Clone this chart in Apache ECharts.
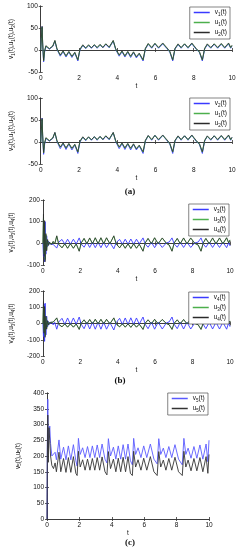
<!DOCTYPE html>
<html><head><meta charset="utf-8">
<script src="https://cdn.jsdelivr.net/npm/echarts@6/dist/echarts.min.js"></script>
<style>html,body{margin:0;padding:0;background:#fff}#c{width:241px;height:550px}</style>
</head><body><div id="c"></div>
<script>
// ---------- data: [t, value] pairs ----------
const v1 = [[0,0],[0.03,24],[0.07,53],[0.1,13],[0.15,-27],[0.2,-5],[0.27,8],[0.35,5],[0.45,2],[0.55,5],[0.63,8],[0.74,20],[0.85,1],[1.02,-14],[1.17,-4],[1.32,-16],[1.47,-5],[1.63,-17],[1.78,-7],[1.94,-25],[2.05,0],[2.2,10],[2.35,3],[2.5,10],[2.65,4],[2.8,11],[2.95,4],[3.1,11],[3.25,5],[3.4,13],[3.58,5],[3.79,20],[3.92,1],[4.1,-14],[4.25,-4],[4.4,-16],[4.55,-5],[4.7,-17],[4.85,-6],[5.0,-18],[5.15,-9],[5.35,-25],[5.47,2],[5.62,13],[5.8,4],[5.97,14],[6.16,4],[6.38,14],[6.6,3],[6.75,-5],[6.9,-25],[7.02,2],[7.18,12],[7.34,4],[7.52,13],[7.7,4],[7.9,14],[8.12,2],[8.3,-6],[8.45,-25],[8.57,2],[8.71,12],[8.89,4],[9.07,13],[9.25,4],[9.44,13],[9.62,4],[9.82,14],[9.93,4],[10,9]];
const u1 = [[0,0],[0.03,25],[0.07,52],[0.1,15],[0.15,-25],[0.2,-3],[0.27,9],[0.35,6],[0.45,3],[0.55,6],[0.63,9],[0.74,21],[0.85,2],[1.02,-12],[1.17,-3],[1.32,-14],[1.47,-4],[1.63,-15],[1.78,-6],[1.94,-23],[2.05,1],[2.2,11],[2.35,4],[2.5,11],[2.65,5],[2.8,12],[2.95,5],[3.1,12],[3.25,6],[3.4,14],[3.58,6],[3.79,21],[3.92,2],[4.1,-12],[4.25,-3],[4.4,-14],[4.55,-4],[4.7,-15],[4.85,-5],[5.0,-16],[5.15,-8],[5.35,-23],[5.47,3],[5.62,14],[5.8,5],[5.97,15],[6.16,5],[6.38,15],[6.6,4],[6.75,-4],[6.9,-23],[7.02,3],[7.18,13],[7.34,5],[7.52,14],[7.7,5],[7.9,15],[8.12,3],[8.3,-5],[8.45,-23],[8.57,3],[8.71,13],[8.89,5],[9.07,14],[9.25,5],[9.44,14],[9.62,5],[9.82,15],[9.93,5],[10,10]];
const u2 = [[0,0],[0.03,26],[0.07,54],[0.1,16],[0.15,-24],[0.2,-2],[0.27,10],[0.35,6],[0.45,3],[0.55,6],[0.63,9],[0.74,22],[0.85,3],[1.02,-11],[1.17,-2],[1.32,-13],[1.47,-3],[1.63,-14],[1.78,-5],[1.94,-22],[2.05,2],[2.2,12],[2.35,5],[2.5,12],[2.65,5],[2.8,12],[2.95,6],[3.1,13],[3.25,6],[3.4,14],[3.58,7],[3.79,22],[3.92,3],[4.1,-11],[4.25,-2],[4.4,-13],[4.55,-3],[4.7,-14],[4.85,-4],[5.0,-15],[5.15,-7],[5.35,-22],[5.47,4],[5.62,15],[5.8,6],[5.97,15],[6.16,6],[6.38,16],[6.6,5],[6.75,-3],[6.9,-22],[7.02,4],[7.18,14],[7.34,6],[7.52,14],[7.7,6],[7.9,16],[8.12,4],[8.3,-4],[8.45,-22],[8.57,4],[8.71,14],[8.89,6],[9.07,14],[9.25,6],[9.44,15],[9.62,6],[9.82,16],[9.93,6],[10,11]];
const v2 = [[0,0],[0.03,23],[0.07,54],[0.1,12],[0.15,-28],[0.2,-6],[0.27,8],[0.35,5],[0.45,2],[0.55,5],[0.63,8],[0.74,21],[0.85,1],[1.02,-15],[1.17,-4],[1.32,-17],[1.47,-5],[1.63,-18],[1.78,-7],[1.94,-26],[2.05,0],[2.2,11],[2.35,3],[2.5,11],[2.65,4],[2.8,12],[2.95,4],[3.1,12],[3.25,5],[3.4,13],[3.58,5],[3.79,21],[3.92,1],[4.1,-15],[4.25,-4],[4.4,-17],[4.55,-5],[4.7,-18],[4.85,-6],[5.0,-18],[5.15,-9],[5.35,-26],[5.47,2],[5.62,14],[5.8,4],[5.97,15],[6.16,4],[6.38,15],[6.6,3],[6.75,-5],[6.9,-26],[7.02,2],[7.18,13],[7.34,4],[7.52,14],[7.7,4],[7.9,15],[8.12,2],[8.3,-6],[8.45,-26],[8.57,2],[8.71,13],[8.89,4],[9.07,14],[9.25,4],[9.44,14],[9.62,4],[9.82,15],[9.93,4],[10,10]];

const v3 = [[0,0],[0.03,-60],[0.06,80],[0.09,-85],[0.12,100],[0.16,-50],[0.2,35],[0.25,-15],[0.3,10],[0.35,-3],[0.45,6],[0.55,-5],[0.63,4],[0.74,-22],[0.85,6],[1.02,18],[1.17,-4],[1.32,19],[1.47,-4],[1.63,19],[1.78,-3],[1.94,25],[2.05,-3],[2.2,-18],[2.35,5],[2.5,-19],[2.65,5],[2.8,-20],[2.95,5],[3.1,-20],[3.25,5],[3.4,-20],[3.58,4],[3.79,-25],[3.92,4],[4.1,18],[4.25,-4],[4.4,19],[4.55,-4],[4.7,20],[4.85,-4],[5.0,19],[5.15,-2],[5.35,25],[5.47,-3],[5.62,-18],[5.8,5],[5.97,-20],[6.16,5],[6.38,-19],[6.6,2],[6.75,6],[6.9,25],[7.02,-3],[7.18,-18],[7.34,5],[7.52,-19],[7.7,5],[7.9,-19],[8.12,2],[8.3,6],[8.45,25],[8.57,-3],[8.71,-18],[8.89,5],[9.07,-19],[9.25,5],[9.44,-19],[9.62,5],[9.82,-20],[9.93,4],[10,-12]];
const u3 = [[0,0],[0.03,115],[0.06,-50],[0.09,95],[0.12,-75],[0.16,40],[0.2,-30],[0.25,15],[0.3,-8],[0.35,5],[0.45,-5],[0.55,8],[0.63,-3],[0.74,33],[0.85,-5],[1.02,-20],[1.17,-2],[1.32,-22],[1.47,-2],[1.63,-22],[1.78,-3],[1.94,-35],[2.05,2],[2.2,22],[2.35,-2],[2.5,24],[2.65,-2],[2.8,25],[2.95,-2],[3.1,25],[3.25,-2],[3.4,25],[3.58,-2],[3.79,33],[3.92,-3],[4.1,-20],[4.25,-2],[4.4,-22],[4.55,-2],[4.7,-23],[4.85,-2],[5.0,-22],[5.15,-4],[5.35,-35],[5.47,2],[5.62,22],[5.8,-2],[5.97,25],[6.16,-2],[6.38,24],[6.6,0],[6.75,-8],[6.9,-35],[7.02,2],[7.18,22],[7.34,-2],[7.52,24],[7.7,-2],[7.9,24],[8.12,0],[8.3,-8],[8.45,-35],[8.57,2],[8.71,22],[8.89,-2],[9.07,24],[9.25,-2],[9.44,24],[9.62,-2],[9.82,25],[9.93,2],[10,15]];
const u4 = [[0,0],[0.03,135],[0.06,-60],[0.09,105],[0.12,-85],[0.16,45],[0.2,-35],[0.25,18],[0.3,-10],[0.35,6],[0.45,-5],[0.55,9],[0.63,-3],[0.74,35],[0.85,-5],[1.02,-21],[1.17,-2],[1.32,-23],[1.47,-2],[1.63,-23],[1.78,-3],[1.94,-37],[2.05,2],[2.2,23],[2.35,-2],[2.5,25],[2.65,-2],[2.8,26],[2.95,-2],[3.1,26],[3.25,-2],[3.4,26],[3.58,-2],[3.79,35],[3.92,-3],[4.1,-21],[4.25,-2],[4.4,-23],[4.55,-2],[4.7,-24],[4.85,-2],[5.0,-23],[5.15,-4],[5.35,-37],[5.47,2],[5.62,23],[5.8,-2],[5.97,26],[6.16,-2],[6.38,25],[6.6,0],[6.75,-8],[6.9,-37],[7.02,2],[7.18,23],[7.34,-2],[7.52,25],[7.7,-2],[7.9,25],[8.12,0],[8.3,-8],[8.45,-37],[8.57,2],[8.71,23],[8.89,-2],[9.07,25],[9.25,-2],[9.44,25],[9.62,-2],[9.82,26],[9.93,2],[10,16]];
const v4 = [[0,0],[0.03,-80],[0.06,120],[0.09,-110],[0.12,125],[0.16,-70],[0.2,45],[0.25,-20],[0.3,12],[0.35,-5],[0.45,10],[0.55,-8],[0.63,7],[0.74,-35],[0.85,10],[1.02,32],[1.17,-6],[1.32,34],[1.47,-6],[1.63,34],[1.78,-5],[1.94,40],[2.05,-5],[2.2,-32],[2.35,8],[2.5,-34],[2.65,8],[2.8,-35],[2.95,8],[3.1,-35],[3.25,8],[3.4,-35],[3.58,6],[3.79,-40],[3.92,6],[4.1,32],[4.25,-6],[4.4,34],[4.55,-6],[4.7,35],[4.85,-6],[5.0,34],[5.15,-4],[5.35,40],[5.47,-5],[5.62,-32],[5.8,8],[5.97,-35],[6.16,8],[6.38,-34],[6.6,4],[6.75,10],[6.9,40],[7.02,-5],[7.18,-32],[7.34,8],[7.52,-34],[7.7,8],[7.9,-34],[8.12,4],[8.3,10],[8.45,40],[8.57,-5],[8.71,-32],[8.89,8],[9.07,-34],[9.25,8],[9.44,-34],[9.62,8],[9.82,-35],[9.93,6],[10,-20]];

const v5 = [[0,0],[0.02,240],[0.05,380],[0.08,225],[0.12,265],[0.17,295],[0.22,240],[0.3,200],[0.4,195],[0.5,212],[0.58,188],[0.66,182],[0.74,251],[0.85,190],[1.02,228],[1.17,188],[1.32,232],[1.47,188],[1.63,236],[1.78,185],[1.86,168],[1.94,256],[2.05,205],[2.2,226],[2.35,195],[2.5,230],[2.65,195],[2.8,232],[2.95,195],[3.1,235],[3.25,195],[3.4,238],[3.58,190],[3.7,178],[3.79,255],[3.92,200],[4.1,228],[4.25,190],[4.4,232],[4.55,190],[4.7,236],[4.85,190],[5.0,238],[5.15,185],[5.27,172],[5.35,256],[5.47,205],[5.62,226],[5.8,195],[5.97,232],[6.16,195],[6.38,238],[6.6,190],[6.8,175],[6.9,255],[7.02,205],[7.18,225],[7.34,195],[7.52,230],[7.7,195],[7.9,236],[8.12,190],[8.35,172],[8.45,256],[8.57,205],[8.71,225],[8.89,193],[9.07,230],[9.25,193],[9.44,235],[9.62,190],[9.82,238],[9.93,182],[10,250]];
const u5 = [[0,0],[0.02,200],[0.05,330],[0.08,180],[0.12,290],[0.17,250],[0.22,200],[0.3,170],[0.4,160],[0.5,178],[0.58,150],[0.66,145],[0.74,212],[0.85,150],[1.02,192],[1.17,148],[1.32,195],[1.47,148],[1.63,198],[1.78,145],[1.86,138],[1.94,215],[2.05,165],[2.2,188],[2.35,155],[2.5,190],[2.65,155],[2.8,192],[2.95,155],[3.1,195],[3.25,155],[3.4,197],[3.58,150],[3.7,140],[3.79,214],[3.92,160],[4.1,190],[4.25,150],[4.4,193],[4.55,150],[4.7,196],[4.85,150],[5.0,198],[5.15,145],[5.27,138],[5.35,215],[5.47,165],[5.62,188],[5.8,155],[5.97,193],[6.16,155],[6.38,198],[6.6,150],[6.8,138],[6.9,214],[7.02,165],[7.18,187],[7.34,155],[7.52,192],[7.7,155],[7.9,196],[8.12,150],[8.35,138],[8.45,215],[8.57,165],[8.71,187],[8.89,153],[9.07,192],[9.25,153],[9.44,195],[9.62,150],[9.82,198],[9.93,145],[10,205]];

const xRange = {min: 0, max: 10, interval: 2};
const yRangeA = {min: -50, max: 100, interval: 50};
const yRangeB1 = {min: -100, max: 200, interval: 100};
const yRangeB2 = {min: -200, max: 200, interval: 100};
const yRangeC = {min: 0, max: 400, interval: 50};
const captions = ['(a)', '(b)', '(c)'];

// ---------- presentation ----------
const FONT = 'Liberation Sans';
const AX = '#333';
const BLUE = '#3a3aff', GREEN = '#4caf4c', BLACK = '#2a2a2a';
function sub(b, s) { return `{n|${b}}{s|${s}}{n|(t)}`; }
const rich = {
  n: {fontSize: 6.5, lineHeight: 9, fontFamily: FONT, color: '#111'},
  s: {fontSize: 4.5, verticalAlign: 'bottom', fontFamily: FONT, color: '#111'}
};

const panels = [
  {grid: {left: 30, right: 9, top: 6, height: 66}, y: yRangeA, yname: `{n|v}{s|1}{n|(t),u}{s|1}{n|(t),u}{s|2}{n|(t)}`, ygap: 16,
   legend: {right: 11, top: 7},
   series: [['A_v1', v1, BLUE, sub('v','1')], ['A_u1', u1, GREEN, sub('u','1')], ['A_u2', u2, BLACK, sub('u','2')]]},
  {grid: {left: 30, right: 9, top: 98, height: 66}, y: yRangeA, yname: `{n|v}{s|2}{n|(t),u}{s|1}{n|(t),u}{s|2}{n|(t)}`, ygap: 16,
   legend: {right: 11, top: 98},
   series: [['B_v2', v2, BLUE, sub('v','2')], ['B_u1', u1, GREEN, sub('u','1')], ['B_u2', u2, BLACK, sub('u','2')]]},
  {grid: {left: 31, right: 11, top: 200, height: 65}, y: yRangeB1, yname: `{n|v}{s|3}{n|(t),u}{s|3}{n|(t),u}{s|4}{n|(t)}`, ygap: 18,
   legend: {right: 12, top: 204},
   series: [['C_v3', v3, BLUE, sub('v','3')], ['C_u3', u3, GREEN, sub('u','3')], ['C_u4', u4, BLACK, sub('u','4')]]},
  {grid: {left: 33, right: 11, top: 291, height: 65}, y: yRangeB2, yname: `{n|v}{s|4}{n|(t),u}{s|3}{n|(t),u}{s|4}{n|(t)}`, ygap: 19,
   legend: {right: 12, top: 292},
   series: [['D_v4', v4, BLUE, sub('v','4')], ['D_u3', u3, GREEN, sub('u','3')], ['D_u4', u4, BLACK, sub('u','4')]]},
  {grid: {left: 47, right: 32, top: 393, height: 126}, y: yRangeC, yname: `{n|v}{s|5}{n|(t),u}{s|5}{n|(t)}`, ygap: 15,
   legend: {right: 33, top: 393},
   series: [['E_v5', v5, '#5a5aff', sub('v','5')], ['E_u5', u5, '#333', sub('u','5')]]}
];

const option = {animation: false, backgroundColor: '#fff', grid: [], xAxis: [], yAxis: [], series: [], legend: [], graphic: []};
const labelMap = {};
panels.forEach((p, i) => {
  option.grid.push(Object.assign({containLabel: false}, p.grid));
  const line = {show: true, lineStyle: {color: AX, width: 0.8}};
  const tick = {show: true, inside: true, length: 2, lineStyle: {color: AX, width: 0.8}};
  const lab = {fontSize: 6.5, fontFamily: FONT, color: '#111', margin: 3};
  option.xAxis.push({type: 'value', gridIndex: i, position: 'bottom', ...xRange, axisLine: line, axisTick: tick, axisLabel: lab, splitLine: {show: false},
    name: 't', nameLocation: 'middle', nameGap: 11, nameTextStyle: {fontSize: 6.5, fontFamily: FONT, color: '#111'}});
  option.xAxis.push({type: 'value', gridIndex: i, position: 'top', ...xRange, axisLine: line, axisTick: tick, axisLabel: {show: false}, splitLine: {show: false}});
  option.yAxis.push({type: 'value', gridIndex: i, position: 'left', ...p.y, axisLine: line, axisTick: tick, axisLabel: lab, splitLine: {show: false},
    name: p.yname, nameLocation: 'middle', nameRotate: 90, nameGap: p.ygap, nameTextStyle: {rich: rich}});
  option.yAxis.push({type: 'value', gridIndex: i, position: 'right', ...p.y, axisLine: line, axisTick: tick, axisLabel: {show: false}, splitLine: {show: false}});
  const names = [];
  p.series.forEach(([name, data, color, label], k) => {
    labelMap[name] = label;
    names.push(name);
    option.series.push({type: 'line', name: name, xAxisIndex: 2 * i, yAxisIndex: 2 * i, data: data, showSymbol: false, symbol: 'none',
      lineStyle: {color: color, width: k === 2 ? 0.7 : 0.9}, itemStyle: {color: color}, silent: true});
  });
  option.legend.push({data: names, orient: 'vertical', right: p.legend.right, top: p.legend.top, icon: 'rect', itemWidth: 16, itemHeight: 1.5,
    itemGap: 2, padding: [2, 3, 2, 4], borderColor: AX, borderWidth: 0.6, backgroundColor: '#fff', selectedMode: false,
    formatter: n => labelMap[n], textStyle: {rich: rich}});
});
const capPos = [[130, 187], [120, 376], [130, 538]];
captions.forEach((c, i) => {
  option.graphic.push({type: 'text', x: capPos[i][0], y: capPos[i][1], style: {text: c, font: 'bold 9px "Liberation Serif"', fill: '#111', textAlign: 'center'}});
});
const chart = echarts.init(document.getElementById('c'));
chart.setOption(option);
</script></body></html>
